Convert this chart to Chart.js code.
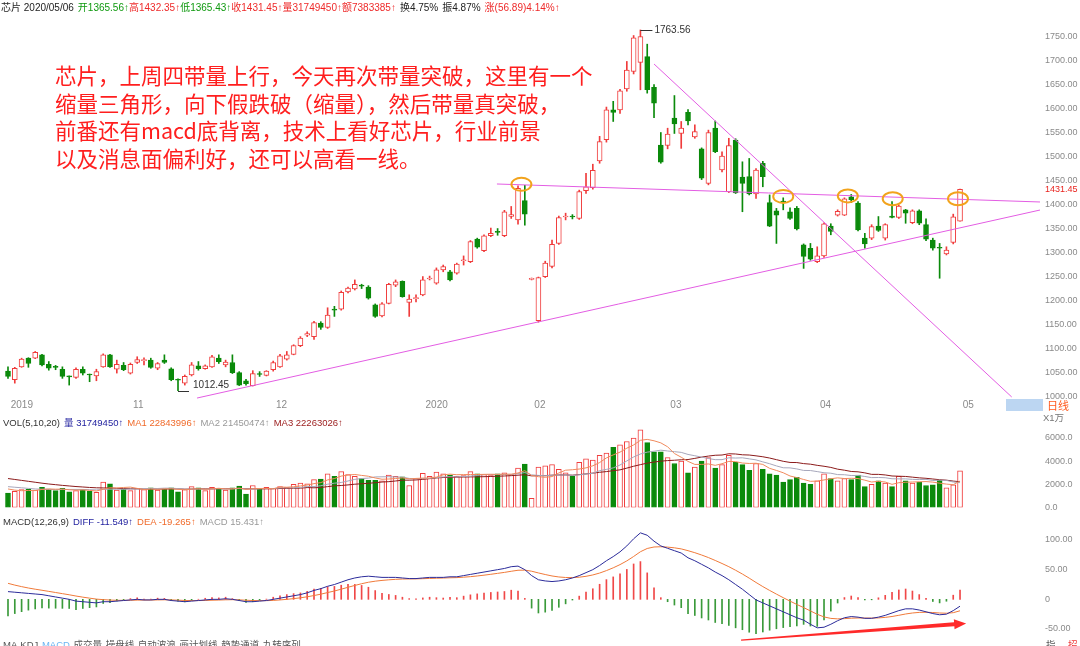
<!DOCTYPE html>
<html>
<head>
<meta charset="utf-8">
<script src="https://cdn.jsdelivr.net/npm/chart.js@4.4.1/dist/chart.umd.min.js"></script>
<style>
  body { margin: 0; background: #fff; width: 1080px; height: 646px; overflow: hidden; position: relative;
         font-family: "Liberation Sans", "DejaVu Sans", "Noto Sans CJK SC", sans-serif; }
  canvas { position: absolute; left: 0; }
  .t { position: absolute; white-space: nowrap; line-height: 12px; }
  .hd { font-size: 10px; top: 2px; left: 1px; }
  .sub { font-size: 9.5px; }
  .sub span, .hd span { margin-right: 4px; }
  .note { position: absolute; left: 55px; top: 61px; color: #ff1e1e; font-size: 21.5px; line-height: 27.7px;
          font-family: "Noto Sans CJK SC", sans-serif; white-space: nowrap; }
</style>
</head>
<body>
<canvas id="price" width="1080" height="418" style="top:0"></canvas>
<canvas id="vol" width="1080" height="96" style="top:416px"></canvas>
<canvas id="macd" width="1080" height="134" style="top:512px"></canvas>

<!-- 顶部行情栏 -->
<div class="t hd"><span style="color:#222">芯片 2020/05/06</span><span style="color:#109a10;margin:0">开1365.56↑</span><span style="color:#ee2a2a;margin:0">高1432.35↑</span><span style="color:#109a10;margin:0">低1365.43↑</span><span style="color:#ee2a2a;margin:0">收1431.45↑</span><span style="color:#ee2a2a;margin:0">量31749450↑</span><span style="color:#ee2a2a">额7383385↑</span><span style="color:#222">换4.75%</span><span style="color:#222">振4.87%</span><span style="color:#ee2a2a">涨(56.89)4.14%↑</span></div>

<div class="note">芯片，上周四带量上行，今天再次带量突破，这里有一个<br>缩量三角形，向下假跌破（缩量），然后带量真突破，<br>前番还有macd底背离，技术上看好芯片，行业前景<br>以及消息面偏利好，还可以高看一线。</div>

<div style="position:absolute;left:1006px;top:399px;width:37px;height:12px;background:#bcd6f2"></div>
<div class="t" style="left:1047px;top:399px;font-size:11px;color:#ff5a1e;font-family:'Noto Sans CJK SC'">日线</div>
<div class="t sub" style="left:1043px;top:412px;color:#777">X1万</div>

<!-- 成交量标题 -->
<div class="t sub" style="left:3px;top:417px"><span style="color:#333">VOL(5,10,20)</span><span style="color:#2323a0">量 31749450↑</span><span style="color:#f06a2a">MA1 22843996↑</span><span style="color:#999">MA2 21450474↑</span><span style="color:#9a1a1a">MA3 22263026↑</span></div>

<!-- MACD标题 -->
<div class="t sub" style="left:3px;top:516px"><span style="color:#333">MACD(12,26,9)</span><span style="color:#2323a0">DIFF -11.549↑</span><span style="color:#f06a2a">DEA -19.265↑</span><span style="color:#999">MACD 15.431↑</span></div>

<!-- 底部指标栏（被窗口下沿截去一半） -->
<div class="t sub" style="left:3px;top:639px;color:#555;word-spacing:1px">MA KDJ <span style="color:#6ab4f2;margin:0">MACD</span> 成交量 操盘线 自动波浪 画计划线 趋势通道 九转序列</div>
<div class="t sub" style="left:1046px;top:639px;color:#555">指</div>
<div class="t sub" style="left:1068px;top:639px;color:#ee3a3a">招</div>

<script>
// 月份刻度（K线序号）
const months = [0, 18, 39, 61, 77, 97, 119, 140];
const monthLabels = ["2019", "11", "12", "2020", "02", "03", "04", "05"];

// 日K线 2019/10/08 - 2020/05/06
const open = [
  1053,1035,1062,1080,1080,1087,1067,1062,1057,1042,
  1040,1057,1046,1043,1062,1087,1057,1065,1049,1071,
  1075,1076,1059,1076,1058,1036,1028,1045,1064,1058,
  1062,1080,1066,1071,1050,1033,1023,1047,1044,1056,
  1062,1078,1088,1106,1128,1125,1153,1144,1182,1182,
  1218,1224,1231,1228,1191,1168,1194,1232,1240,1196,
  1204,1212,1245,1236,1264,1260,1257,1283,1281,1328,
  1304,1335,1344,1335,1375,1368,1408,1244,1158,1250,
  1271,1319,1374,1376,1371,1429,1435,1491,1535,1597,
  1597,1641,1677,1696,1708,1644,1524,1523,1580,1548,
  1592,1541,1516,1444,1559,1472,1427,1534,1457,1458,
  1422,1486,1404,1387,1407,1385,1392,1316,1309,1281,
  1293,1355,1378,1378,1416,1403,1330,1330,1355,1330,
  1376,1373,1389,1362,1387,1358,1326,1311,1297,1321,
  1365.56
];
const high = [
  1062,1061,1080,1081,1094,1088,1073,1065,1062,1043,
  1060,1062,1047,1057,1089,1088,1076,1071,1070,1083,
  1081,1080,1071,1087,1060,1037,1045,1071,1073,1066,
  1086,1087,1076,1087,1052,1036,1054,1052,1054,1074,
  1088,1094,1108,1125,1135,1157,1156,1185,1188,1220,
  1228,1243,1234,1231,1193,1196,1236,1243,1241,1212,
  1212,1250,1251,1268,1274,1263,1278,1293,1325,1330,
  1337,1351,1350,1388,1396,1439,1440,1247,1249,1282,
  1326,1376,1382,1379,1430,1465,1484,1542,1603,1615,
  1640,1698,1752,1763.56,1734,1650,1550,1559,1627,1573,
  1598,1566,1518,1555,1574,1510,1538,1537,1489,1496,
  1475,1490,1420,1392,1414,1393,1396,1318,1319,1312,
  1362,1360,1389,1414,1421,1406,1340,1358,1375,1360,
  1406,1399,1390,1389,1389,1370,1330,1319,1312,1380,
  1432.35
];
const low = [
  1038,1028,1061,1061,1079,1064,1055,1056,1038,1024,
  1038,1045,1031,1033,1061,1061,1049,1054,1047,1069,
  1066,1059,1056,1069,1033,1012.45,1024,1043,1055,1057,
  1061,1069,1062,1048,1023,1024,1022,1042,1043,1053,
  1061,1076,1087,1104,1125,1119,1140,1142,1167,1180,
  1216,1222,1225,1203,1165,1166,1193,1229,1207,1167,
  1197,1210,1243,1234,1260,1241,1255,1274,1279,1309,
  1302,1333,1336,1333,1371,1359,1357,1243,1155,1248,
  1268,1317,1368,1370,1369,1423,1432,1486,1530,1573,
  1590,1636,1672,1639,1632,1581,1486,1516,1548,1517,
  1566,1538,1452,1441,1508,1468,1425,1423,1385,1420,
  1413,1437,1354,1319,1389,1369,1347,1267,1284,1279,
  1290,1337,1376,1377,1404,1345,1309,1327,1344,1326,
  1372,1371,1361,1360,1358,1325,1305,1246.5,1295,1318,
  1365.43
];
const close = [
  1042,1059,1078,1069,1092,1066,1059,1061,1042,1041,
  1057,1049,1045,1052,1087,1062,1067,1056,1067,1077,
  1077,1061,1069,1071,1035,1034,1042,1066,1058,1064,
  1083,1073,1072,1050,1024,1027,1048,1046,1053,1071,
  1085,1087,1106,1122,1131,1154,1144,1170,1180,1217,
  1226,1234,1230,1205,1167,1193,1234,1239,1208,1203,
  1206,1243,1247,1264,1271,1243,1276,1285,1323,1311,
  1335,1340,1342,1385,1379,1434,1380,1246,1248,1278,
  1317,1373,1376,1374,1427,1437,1471,1531,1597,1592,
  1637,1680,1747,1750,1639,1611,1488,1547,1568,1559,
  1574,1552,1455,1550,1510,1501,1523,1424,1444,1422,
  1472,1458,1355,1378,1404,1371,1349,1292,1286,1293,
  1360,1344,1386,1412,1410,1347,1318,1354,1346,1358,
  1373,1397,1382,1387,1361,1328,1309,1309,1305,1374.56,
  1431.45
];

// 成交量（万）
const volume = [
  1250,1400,1550,1600,1500,1750,1600,1450,1650,1350,
  1450,1550,1400,1300,2200,2050,1500,1600,1450,1650,
  1550,1700,1500,1600,1700,1350,1550,1800,1700,1450,
  1750,1600,1500,1700,1850,1150,1900,1600,1750,1650,
  1800,1750,2000,2100,2050,2400,2450,2900,2700,3100,
  2850,2700,2500,2350,2350,2300,2800,2700,2650,1900,
  2500,2950,2700,3050,2900,2800,2700,2750,3100,2900,
  2850,2750,2900,3000,2850,3400,3750,800,3500,3600,
  3700,3300,3000,2700,3900,4200,4100,4500,4700,5200,
  5400,5700,6000,6700,5600,4800,4800,4300,3800,4000,
  3000,3500,4000,4300,3400,3700,4500,3900,3700,3200,
  3800,3300,2900,2800,2200,2400,2600,2100,2000,2300,
  2900,2500,2300,2500,2400,2800,1800,2000,2300,2100,
  1800,2700,2300,2100,2200,1900,1950,2350,1700,1950,
  3174.9
];
const volMa1 = [
  1600,1500,1450,1470,1460,1560,1600,1580,1590,1530,
  1500,1520,1480,1420,1580,1700,1690,1730,1760,1650,
  1550,1590,1570,1600,1610,1570,1530,1590,1620,1570,
  1610,1660,1600,1600,1680,1560,1620,1640,1650,1610,
  1770,1750,1790,1860,1940,2060,2150,2380,2500,2710,
  2800,2850,2770,2700,2550,2440,2460,2500,2560,2470,
  2510,2540,2540,2620,2820,2880,2830,2840,2850,2850,
  2860,2870,2860,2880,2870,2980,3180,2760,2660,2610,
  2670,2980,3220,3260,3320,3420,3600,3880,4280,4540,
  4780,5120,5400,5800,5880,5760,5580,5240,4660,4340,
  3980,3720,3720,3760,3640,3780,3980,3960,3840,3800,
  3820,3720,3380,3200,3000,2720,2580,2420,2260,2280,
  2380,2480,2560,2500,2520,2500,2360,2200,2260,2200,
  2000,2140,2180,2200,2220,2240,2190,2100,2020,1970,
  2284.4
];
const volMa2 = [
  1800,1750,1700,1650,1600,1580,1560,1540,1560,1560,
  1560,1560,1540,1520,1560,1580,1580,1570,1590,1590,
  1620,1650,1640,1670,1670,1630,1580,1590,1590,1580,
  1600,1620,1600,1610,1640,1590,1580,1610,1640,1640,
  1690,1700,1700,1730,1810,1810,1880,2010,2100,2160,
  2290,2430,2500,2540,2640,2650,2660,2630,2620,2510,
  2480,2500,2520,2580,2640,2660,2650,2670,2710,2760,
  2850,2850,2850,2850,2860,2920,3020,2820,2770,2740,
  2780,2800,2810,2780,2820,2890,2950,3180,3290,3420,
  3670,4020,4360,4620,4780,4860,4950,4880,4820,4760,
  4580,4470,4350,4230,4130,4130,4290,4270,4290,4200,
  4110,3940,3780,3590,3430,3420,3330,3200,3190,3100,
  3000,2960,2840,2830,2760,2760,2680,2580,2590,2570,
  2480,2470,2470,2430,2410,2430,2330,2360,2340,2200,
  2145.0
];
const volMa3 = [
  2500,2420,2340,2260,2180,2100,2030,1970,1910,1860,
  1810,1770,1730,1700,1690,1680,1650,1630,1620,1610,
  1590,1600,1590,1590,1610,1610,1580,1590,1610,1610,
  1610,1620,1620,1630,1650,1610,1610,1610,1610,1620,
  1640,1650,1660,1670,1720,1700,1730,1800,1870,1900,
  1950,2010,2050,2090,2140,2200,2230,2290,2360,2360,
  2380,2430,2490,2550,2590,2600,2620,2630,2640,2650,
  2660,2680,2700,2720,2750,2790,2830,2730,2760,2750,
  2790,2810,2810,2790,2840,2900,2970,3040,3100,3180,
  3250,3400,3560,3700,3830,3920,4000,4050,4080,4120,
  4140,4240,4350,4440,4510,4530,4640,4620,4550,4530,
  4460,4380,4270,4130,3990,3890,3880,3790,3740,3640,
  3560,3460,3310,3220,3110,3080,2990,2860,2860,2810,
  2720,2700,2680,2620,2560,2520,2460,2400,2360,2280,
  2226.3
];

// MACD(12,26,9)
const diff = [
  13,12,11,10,9,8,6,4,2,0,
  -3,-4,-5,-6,-4,-4,-3,-2,-1,0,
  -1,-1,0,0,-2,-3,-4,-3,-2,-1,
  0,0,1,0,-2,-4,-4,-3,-2,0,
  2,4,6,8,11,15,18,22,25,29,
  33,36,38,39,38,37,37,37,36,35,
  35,36,37,37,37,38,38,40,42,44,
  46,48,50,52,55,56,50,40,33,31,
  30,31,33,36,40,45,50,57,65,72,
  80,90,102,112,108,98,90,86,82,78,
  70,65,59,53,46,40,33,25,17,8,
  -1,-6,-11,-16,-21,-26,-31,-35,-42,-48,
  -47,-42,-36,-31,-29,-30,-32,-32,-30,-27,
  -23,-19,-16,-16,-18,-21,-24,-26,-25,-19,
  -11.549
];
const dea = [
  27,24,21.4,19.1,17.1,15.3,13.4,11.5,9.6,7.7,
  5.6,3.7,2.0,0.4,-0.5,-1.2,-1.6,-1.7,-1.6,-1.3,
  -1.2,-1.2,-1.0,-0.8,-1.0,-1.4,-1.9,-2.1,-2.1,-1.9,
  -1.5,-1.2,-0.8,-0.6,-0.9,-1.5,-2.0,-2.2,-2.2,-1.8,
  -1.0,0,1.2,2.6,4.3,6.4,8.7,11.4,14.1,17.1,
  20.3,23.4,26.3,28.8,30.6,31.9,32.9,33.7,34.2,34.4,
  34.5,34.8,35.2,35.6,35.9,36.3,36.6,37.3,38.2,39.4,
  40.7,42.2,43.8,45.4,47.3,49.0,49.2,47.4,44.5,41.8,
  39.4,37.7,36.8,36.6,37.3,38.8,41.1,44.3,48.4,53.1,
  58.5,64.8,72.2,80.2,85.7,88.2,88.6,88.0,86.8,85.0,
  82.0,78.6,74.7,70.4,65.5,60.4,55.0,49.0,42.6,35.7,
  28.4,21.5,15.0,8.8,2.8,-3.0,-8.6,-13.9,-19.5,-25.2,
  -29.6,-32.1,-32.9,-32.5,-31.8,-31.4,-31.5,-31.6,-31.3,-30.4,
  -28.9,-26.9,-24.7,-23.0,-22.0,-21.8,-22.2,-23.0,-23.4,-22.5,
  -19.265
];
const macdBar = [
  -28,-24,-20.8,-18.2,-16.2,-14.6,-14.8,-15,-15.2,-15.4,
  -17.2,-15.4,-14,-12.8,-7,-5.6,-2.8,-0.6,1.2,2.6,
  0.4,0.4,2,1.6,-2,-3.2,-4.2,-1.8,0.2,1.8,
  3,2.4,3.6,1.2,-2.2,-5,-4,-1.6,0.4,3.6,
  6,8,9.6,10.8,13.4,17.2,18.6,21.2,21.8,23.8,
  25.4,25.2,23.4,20.4,14.8,10.2,8.2,6.6,3.6,1.2,
  1,2.4,3.6,2.8,2.2,3.4,2.8,5.4,7.6,9.2,
  10.6,11.6,12.4,13.2,15.4,14,1.6,-14.8,-23,-21.6,
  -18.8,-13.4,-7.6,-1.2,5.4,12.4,17.8,25.4,33.2,37.8,
  43,50.4,59.6,63.6,44.6,19.6,2.8,-4,-9.6,-14,
  -24,-27.2,-31.4,-34.8,-39,-40.8,-44,-48,-51.2,-55.4,
  -58.8,-55,-52,-49.6,-47.6,-46,-44.8,-42.2,-45,-45.6,
  -34.8,-19.8,-6.2,3,5.6,2.8,-1,-0.8,2.6,6.8,
  11.8,15.8,17.4,14,8,1.6,-3.6,-6,-3.2,7,
  15.431
];

// 手绘辅助线：[起点序号, 起点价, 终点序号, 终点价]
const trendLines = [
  [27.8, 997, 151.8, 1388.7],
  [71.9, 1442.8, 151.8, 1405.3],
  [95, 1692.7, 147.6, 999.2]
];
// 圈出的高点 [序号, 价格]
const marks = [[75.5, 1442], [114, 1417], [123.5, 1418], [130.1, 1412], [139.7, 1412]];
// MACD 区的红色箭头 [起点序号, 起点值, 终点序号, 终点值]
const arrow = [107.8, -68.6, 140.9, -40.5];

const RED = "#f03c3c", GREEN = "#0b8a0b";
const idx = open.map((_, i) => i);
const isUp = i => close[i] >= open[i];
const lineCol = i => (isUp(i) ? RED : GREEN);
const fillCol = i => (isUp(i) ? "#ffffff" : GREEN);
const FONT = "'Liberation Sans', 'DejaVu Sans', sans-serif";

function xAxis(show) {
  const ax = {
    type: "linear", min: -1.176, max: 151.76, offset: false, display: show,
    grid: { display: false, drawTicks: false }, border: { display: false },
    afterBuildTicks: s => { s.ticks = months.map(v => ({ value: v + 0.4 })); },
    ticks: { autoSkip: false, maxRotation: 0, align: "start", padding: 0, color: "#8a8a8a",
             font: { size: 10, family: FONT }, callback: (v, i) => monthLabels[i] }
  };
  if (show) ax.afterFit = s => { s.height = 19; };
  return ax;
}
function yAxis(min, max, vals, fmt) {
  return {
    position: "right", min: min, max: max,
    grid: { display: false, drawTicks: false }, border: { display: false },
    // 固定宽度，并去掉刻度文字带来的额外上下留白
    afterFit: s => { s.width = 40; s.paddingTop = 0; s.paddingBottom = 0; },
    afterBuildTicks: s => { s.ticks = vals.map(v => ({ value: v })); },
    ticks: { padding: 5, color: "#8a8a8a", font: { size: 9, family: FONT }, callback: fmt }
  };
}
const baseOpts = {
  responsive: false, animation: false, devicePixelRatio: 1,
  plugins: { legend: { display: false }, tooltip: { enabled: false } }
};

// 主图：标注、最高最低价、最新价
const priceOverlay = {
  id: "priceOverlay",
  afterDatasetsDraw(chart) {
    const { ctx, scales: { x, y } } = chart;
    ctx.save();
    ctx.strokeStyle = "#f2a31c";
    ctx.lineWidth = 2;
    marks.forEach(m => {
      ctx.beginPath();
      ctx.ellipse(x.getPixelForValue(m[0]), y.getPixelForValue(m[1]), 10, 6.5, 0, 0, Math.PI * 2);
      ctx.stroke();
    });

    ctx.font = "10px " + FONT;
    ctx.fillStyle = "#333";
    ctx.strokeStyle = "#333";
    ctx.lineWidth = 1;
    ctx.textBaseline = "middle";
    const hi = high.indexOf(Math.max(...high));
    const hx = x.getPixelForValue(hi), hy = Math.round(y.getPixelForValue(high[hi])) + 0.5;
    ctx.beginPath(); ctx.moveTo(hx, hy); ctx.lineTo(hx + 12, hy); ctx.stroke();
    ctx.fillText(high[hi].toFixed(2), hx + 14, hy);

    const lo = low.indexOf(Math.min(...low));
    const lx = x.getPixelForValue(lo), ly = Math.round(y.getPixelForValue(low[lo])) + 0.5;
    ctx.beginPath(); ctx.moveTo(lx, ly); ctx.lineTo(lx + 11, ly); ctx.stroke();
    ctx.fillText(low[lo].toFixed(2), lx + 15, ly - 6);

    const last = close.length - 1;
    ctx.font = "9px " + FONT;
    ctx.fillStyle = "#e8231e";
    ctx.fillText(close[last].toFixed(2), chart.chartArea.right + 5, y.getPixelForValue(close[last]));
    ctx.restore();
  }
};

new Chart(document.getElementById("price"), {
  type: "bar",
  data: {
    datasets: [
      ...trendLines.map(t => ({
        type: "line", data: [{ x: t[0], y: t[1] }, { x: t[2], y: t[3] }],
        borderColor: "#e35de3", borderWidth: 1, pointRadius: 0, fill: false
      })),
      {
        data: idx.map(i => ({ x: i, y: [open[i], close[i]] })),
        backgroundColor: c => fillCol(c.dataIndex), borderColor: c => lineCol(c.dataIndex),
        borderWidth: 1, borderSkipped: false, barThickness: 5, minBarLength: 1, grouped: false
      },
      {
        data: idx.map(i => ({ x: i, y: [low[i], high[i]] })),
        backgroundColor: c => lineCol(c.dataIndex), borderWidth: 0, barThickness: 1, grouped: false
      }
    ]
  },
  options: {
    ...baseOpts,
    layout: { padding: { top: 24, left: 0, right: 0, bottom: 0 } },
    scales: {
      x: xAxis(true),
      y: yAxis(995, 1776, [1000,1050,1100,1150,1200,1250,1300,1350,1400,1450,1500,1550,1600,1650,1700,1750],
               v => v.toFixed(2))
    }
  },
  plugins: [priceOverlay]
});

// 成交量
new Chart(document.getElementById("vol"), {
  type: "bar",
  data: {
    datasets: [
      { type: "line", data: volMa1.map((v, i) => ({ x: i, y: v })), borderColor: "#f08a5d", borderWidth: 1, pointRadius: 0 },
      { type: "line", data: volMa2.map((v, i) => ({ x: i, y: v })), borderColor: "#a7a7bb", borderWidth: 1, pointRadius: 0 },
      { type: "line", data: volMa3.map((v, i) => ({ x: i, y: v })), borderColor: "#8b1a1a", borderWidth: 1, pointRadius: 0 },
      {
        data: volume.map((v, i) => ({ x: i, y: v })),
        backgroundColor: c => fillCol(c.dataIndex), borderColor: c => lineCol(c.dataIndex),
        borderWidth: 1, borderSkipped: false, barThickness: 5
      }
    ]
  },
  options: {
    ...baseOpts,
    layout: { padding: { top: 10, left: 0, right: 0, bottom: 4.5 } },
    scales: { x: xAxis(false), y: yAxis(0, 7036, [0, 2000, 4000, 6000], v => v.toFixed(1)) }
  }
});

// MACD
const arrowPlugin = {
  id: "arrow",
  afterDatasetsDraw(chart) {
    const { ctx, scales: { x, y } } = chart;
    const x0 = x.getPixelForValue(arrow[0]), y0 = y.getPixelForValue(arrow[1]);
    const x1 = x.getPixelForValue(arrow[2]), y1 = y.getPixelForValue(arrow[3]);
    const a = Math.atan2(y1 - y0, x1 - x0), nx = -Math.sin(a), ny = Math.cos(a);
    const bx = x1 - Math.cos(a) * 12, by = y1 - Math.sin(a) * 12;
    ctx.save();
    ctx.fillStyle = "#ff2a2a";
    ctx.beginPath();
    ctx.moveTo(x0 + nx * 0.6, y0 + ny * 0.6);
    ctx.lineTo(bx + nx * 2, by + ny * 2);
    ctx.lineTo(bx + nx * 5, by + ny * 5);
    ctx.lineTo(x1, y1);
    ctx.lineTo(bx - nx * 5, by - ny * 5);
    ctx.lineTo(bx - nx * 2, by - ny * 2);
    ctx.lineTo(x0 - nx * 0.6, y0 - ny * 0.6);
    ctx.closePath();
    ctx.fill();
    ctx.restore();
  }
};

new Chart(document.getElementById("macd"), {
  type: "bar",
  data: {
    datasets: [
      { type: "line", data: diff.map((v, i) => ({ x: i, y: v })), borderColor: "#2b2b9a", borderWidth: 1, pointRadius: 0 },
      { type: "line", data: dea.map((v, i) => ({ x: i, y: v })), borderColor: "#f07a3a", borderWidth: 1, pointRadius: 0 },
      {
        data: macdBar.map((v, i) => ({ x: i, y: v })),
        backgroundColor: c => (macdBar[c.dataIndex] >= 0 ? "#f04848" : "#3a9a3a"),
        borderWidth: 0, barThickness: 1
      }
    ]
  },
  options: {
    ...baseOpts,
    layout: { padding: { top: 16, left: 0, right: 0, bottom: 12 } },
    scales: {
      x: xAxis(false),
      y: yAxis(-58.4, 120.2, [-50, 0, 50, 100], v => (v === 0 ? "0" : v.toFixed(2)))
    }
  },
  plugins: [arrowPlugin]
});
</script>
</body>
</html>
